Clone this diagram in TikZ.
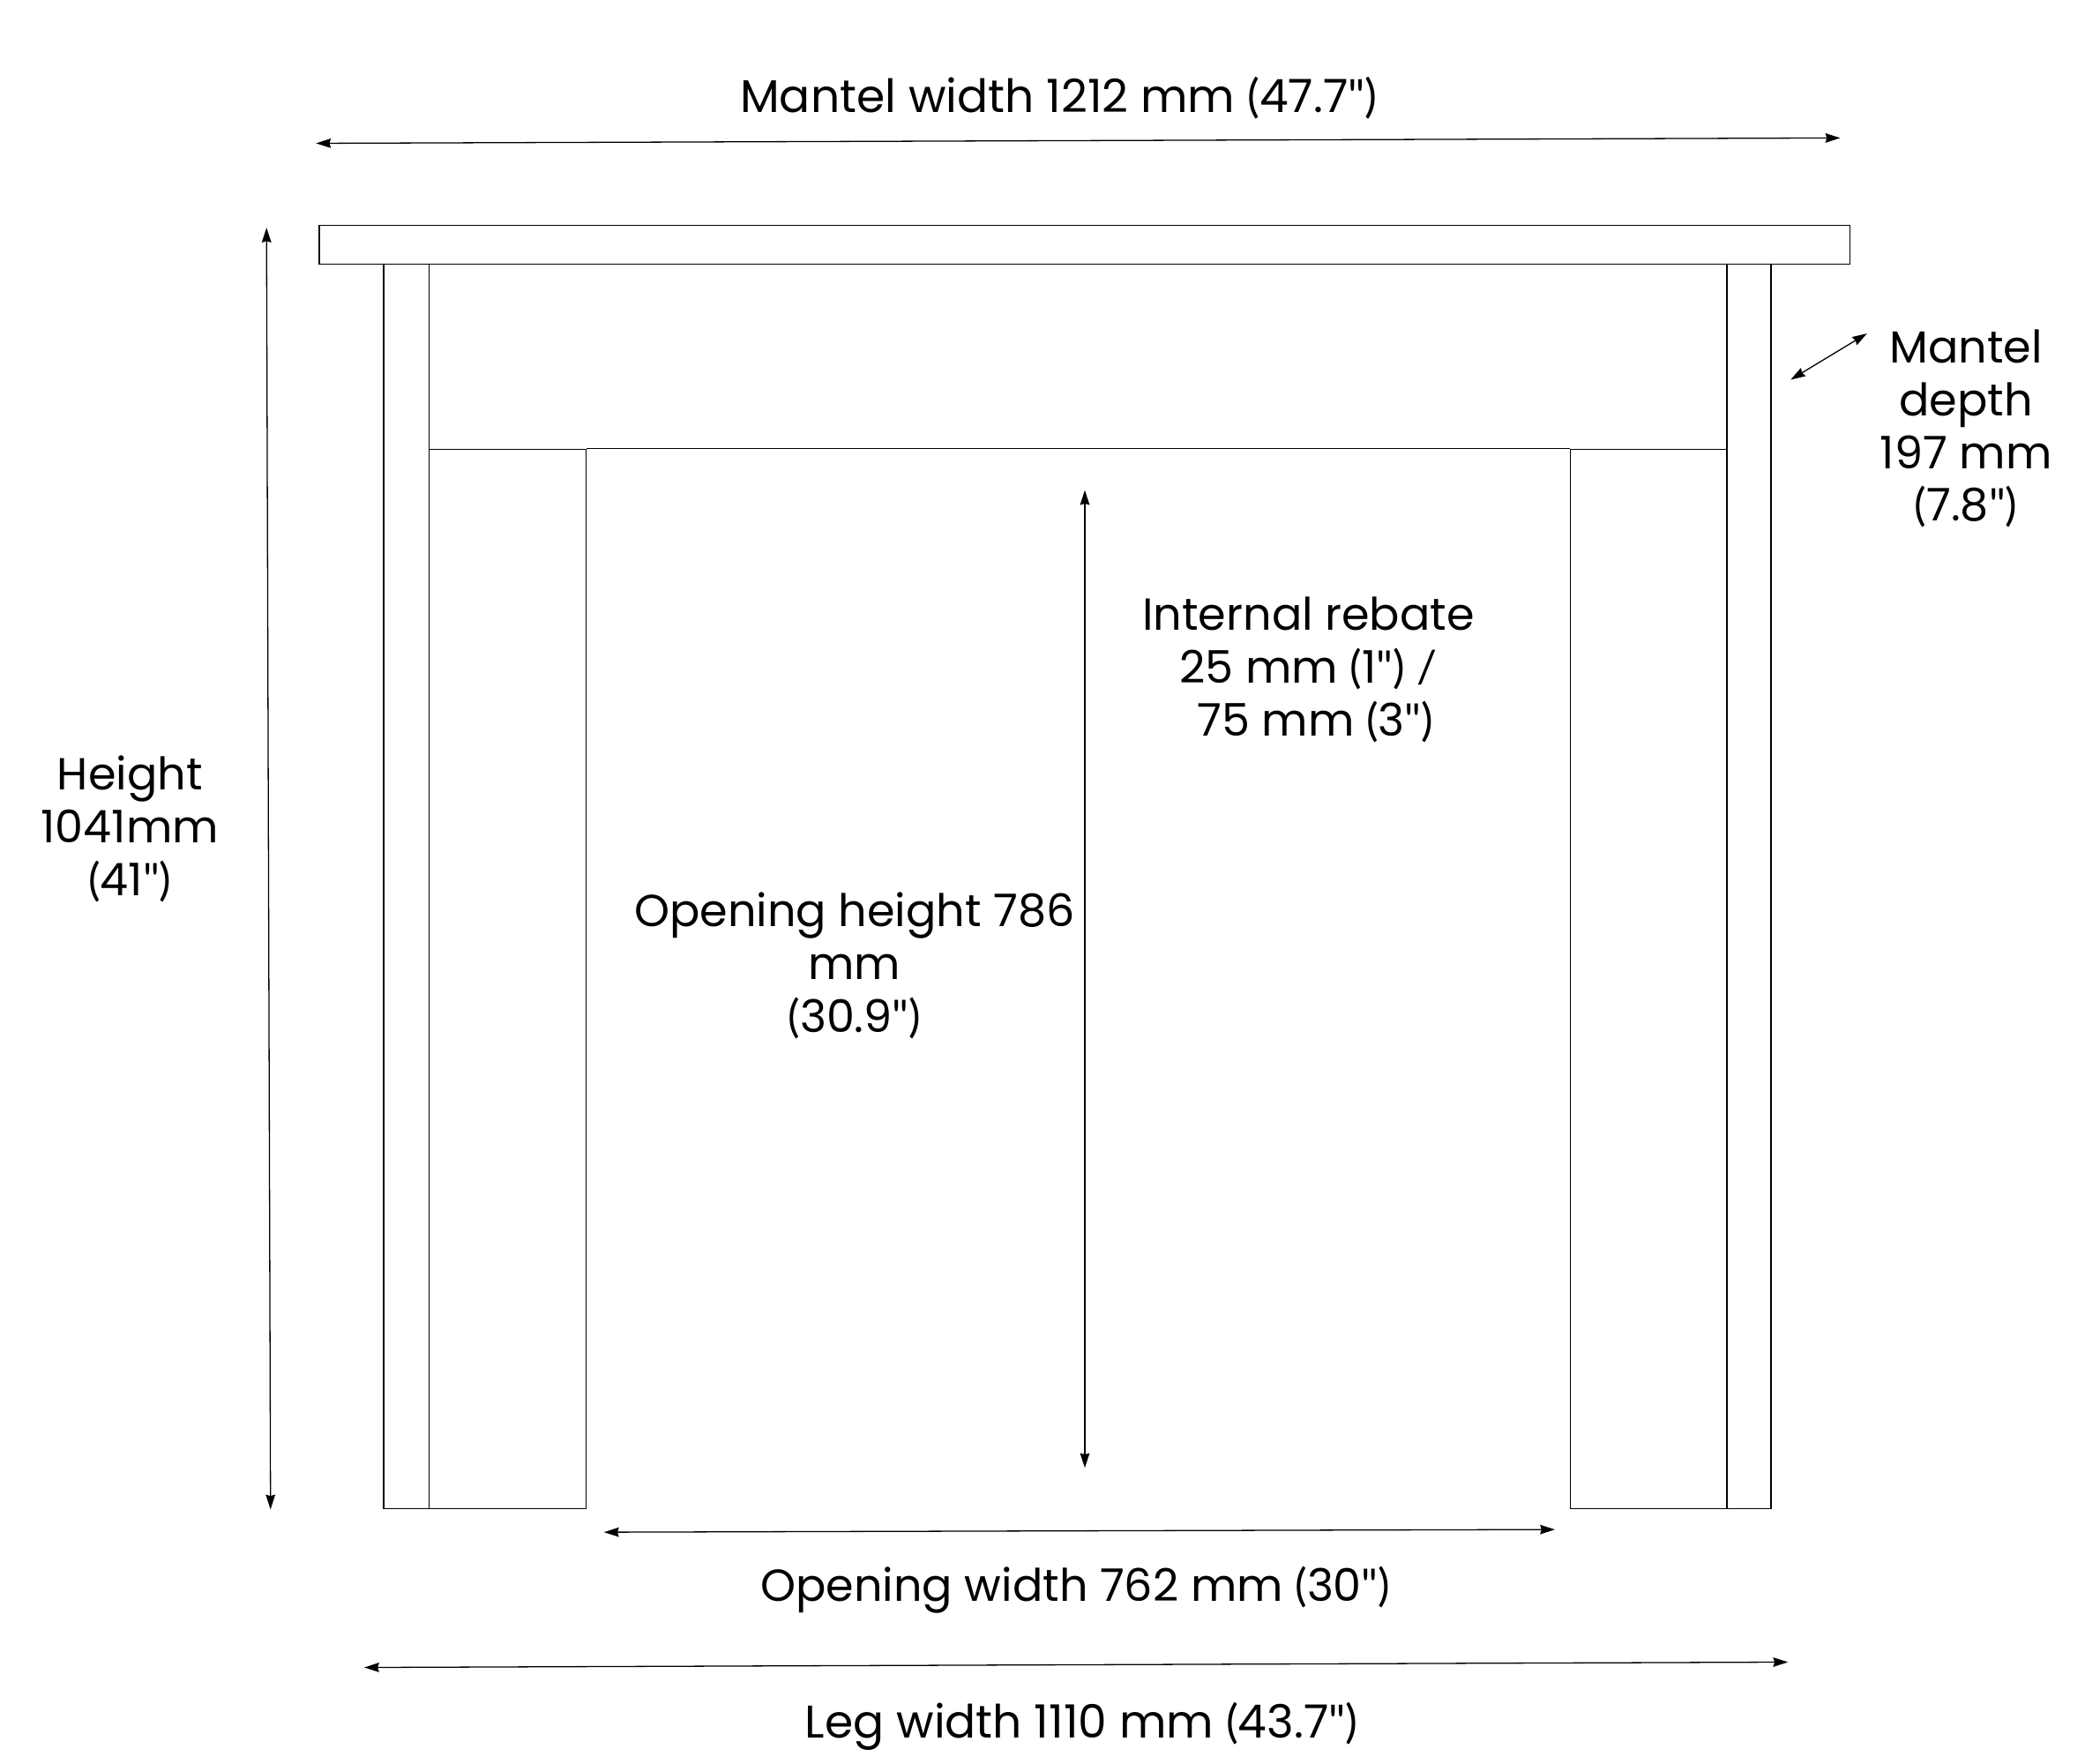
\documentclass[tikz,border=0pt]{standalone}
\usepackage{fontspec}
\setmainfont{Poppins}
\newfontfamily\quotefont{Lato}
\newcommand{\qmark}{{\quotefont"}}
\newcommand{\lpar}{{\quotefont(}}
\newcommand{\rpar}{{\quotefont)}}
\newcommand{\slashmark}{{\quotefont/}}
\usetikzlibrary{arrows.meta}
\tikzset{
  part/.style={draw=black,line width=0.85pt,fill=white},
  dim/.style={draw=black,line width=0.85pt,{Stealth[length=11pt,width=7pt,inset=1pt]}-{Stealth[length=11pt,width=7pt,inset=1pt]}},
  lab/.style={inner sep=0pt,align=center,font=\fontsize{33.5}{39.5}\selectfont,text=black},
  labwide/.style={lab,font=\fontsize{34.2}{39.5}\selectfont}
}
\begin{document}
\begin{tikzpicture}[x=1pt,y=-1pt]
\useasboundingbox (0,0) rectangle (1568,1317);
% frame
\node[part,inner sep=0pt,anchor=north west,minimum width=1143pt,minimum height=29pt] (mantel) at (238,168) {};
\node[part,inner sep=0pt,anchor=north west,minimum width=34pt,minimum height=929pt] (legL) at (286,197) {};
\node[part,inner sep=0pt,anchor=north west,minimum width=33pt,minimum height=929pt] (legR) at (1289,197) {};
\node[part,inner sep=0pt,anchor=north west,minimum width=117pt,minimum height=791pt] (blockL) at (320,335) {};
\node[part,inner sep=0pt,anchor=north west,minimum width=117pt,minimum height=791pt] (blockR) at (1172,335) {};
\draw[part] (blockL.north east) -- (blockR.north west);
% arrow ends
\coordinate (a1) at (236,107); \coordinate (a2) at (1374,103);
\coordinate (b1) at (199,170); \coordinate (b2) at (202,1127);
\coordinate (c1) at (1337,283.5); \coordinate (c2) at (1394,249);
\coordinate (d1) at (810,366); \coordinate (d2) at (810,1096);
\coordinate (e1) at (451,1144); \coordinate (e2) at (1161,1142);
\coordinate (f1) at (272,1245); \coordinate (f2) at (1335,1241);
\draw[dim] (a1) -- (a2);
\draw[dim] (b1) -- (b2);
\draw[dim] (c1) -- (c2);
\draw[dim] (d1) -- (d2);
\draw[dim] (e1) -- (e2);
\draw[dim] (f1) -- (f2);
% labels
\node[labwide] (tw) at (790.5,73) {Mantel width 1212 mm \lpar47.7\qmark\rpar};
\node[lab] (th) at (97,619) {Height\\1041mm\\\lpar41\qmark\rpar};
\node[lab] (td) at (1468,320) {Mantel\\depth\\197 mm\\\lpar7.8\qmark\rpar};
\node[lab] (tr1) at (977,458) {Internal rebate};
\node[lab] (tr2) at (977,499.5) {25 mm \lpar1\qmark\rpar{} \slashmark};
\node[lab] (tr3) at (982,539) {75 mm \lpar3\qmark\rpar};
\node[lab] (to) at (638,721) {Opening height 786\\mm\\\lpar30.9\qmark\rpar};
\node[lab] (tow) at (803,1187) {Opening width 762 mm \lpar30\qmark\rpar};
\node[labwide] (tl) at (807.5,1289) {Leg width 1110 mm \lpar43.7\qmark\rpar};
\end{tikzpicture}
\end{document}
